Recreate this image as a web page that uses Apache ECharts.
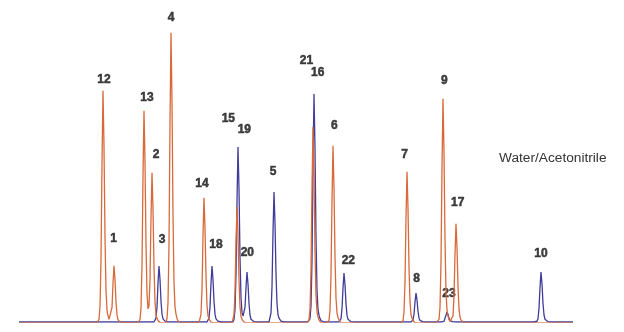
<!DOCTYPE html>
<html>
<head>
<meta charset="utf-8">
<script src="https://cdn.jsdelivr.net/npm/echarts@6/dist/echarts.min.js"></script>
<style>
html,body{margin:0;padding:0;background:#fff;}
#chart{width:624px;height:332px;}
</style>
</head>
<body>
<div id="chart"></div>
<script>
// Retention time axis (min) and sampling step of the drawn traces
const timeMin = 0;
const timeMax = 27.7;
const timeStep = 0.05;

// Orange trace peaks: retention time (min), height (mAU-like units)
const orangePeakNames   = ['12', '1', '13', '2', '4', '14', '15', '21', '6', '7', '9', '17'];
const orangePeakTimes   = [4.2, 4.75, 6.25, 6.65, 7.6, 9.25, 10.9, 14.7, 15.7, 19.4, 21.2, 21.85];
const orangePeakHeights = [232, 57, 212, 150, 290, 125, 116, 196, 177, 151, 224, 99];

// Blue trace peaks
const bluePeakNames   = ['3', '18', '19', '20', '5', '16', '22', '8', '23', '10'];
const bluePeakTimes   = [7.0, 9.65, 10.95, 11.4, 12.75, 14.75, 16.25, 19.85, 21.4, 26.1];
const bluePeakHeights = [56, 56, 175, 50, 130, 228, 49, 29, 10, 50];

// Peak profile: fraction of apex height at sample offsets -5 .. +8
const peakShapeStart = -5;
const peakShape = [0, 0.015, 0.07, 0.27, 0.69, 1, 0.76, 0.37, 0.14, 0.055, 0.03, 0.015, 0.006, 0];

// Baseline levels
const orangeBaseline = -0.8;
const blueBaseline = 0;

// Peak number labels: name, time (min), level
const labelNames  = ['12', '1', '13', '2', '3', '4', '14', '18', '15', '19', '20', '5', '21', '16', '6', '22', '7', '8', '9', '23', '17', '10'];
const labelTimes  = [4.25, 4.735, 6.4, 6.85, 7.15, 7.6, 9.15, 9.85, 10.465, 11.265, 11.415, 12.7, 14.375, 14.935, 15.765, 16.465, 19.285, 19.885, 21.265, 21.5, 21.935, 26.1];
const labelLevels = [242, 83.7, 224.7, 167, 82.7, 304.3, 138, 77.7, 203, 192.7, 69.7, 150.7, 261, 249.3, 196, 61.7, 167.7, 43.3, 241, 28.7, 119.7, 68];

const solventText = 'Water/Acetonitrile';

function buildTrace(times, heights, baseline) {
  const n = Math.round((timeMax - timeMin) / timeStep);
  const vals = new Array(n + 1).fill(baseline);
  times.forEach((t, p) => {
    const c = Math.round((t - timeMin) / timeStep);
    peakShape.forEach((f, k) => {
      const i = c + peakShapeStart + k;
      if (i >= 0 && i <= n) vals[i] += heights[p] * f;
    });
  });
  return vals.map((v, i) => [+(timeMin + i * timeStep).toFixed(3), v]);
}

const chart = echarts.init(document.getElementById('chart'), null, {renderer: 'canvas'});
chart.setOption({
  animation: false,
  backgroundColor: '#ffffff',
  title: {
    text: solventText,
    left: 499,
    top: 151,
    padding: 0,
    textStyle: {fontFamily: 'Liberation Sans', fontSize: 13.7, fontWeight: 'normal', color: '#333333'}
  },
  grid: {left: 19, right: 51, top: 0, bottom: 10},
  xAxis: {type: 'value', min: timeMin, max: timeMax, show: false},
  yAxis: {type: 'value', min: 0, max: 322, show: false},
  series: [
    {
      type: 'line',
      data: buildTrace(bluePeakTimes, bluePeakHeights, blueBaseline),
      showSymbol: false,
      lineStyle: {color: '#3f3d99', width: 1.3},
      silent: true
    },
    {
      type: 'line',
      data: buildTrace(orangePeakTimes, orangePeakHeights, orangeBaseline),
      showSymbol: false,
      lineStyle: {color: '#d8693a', width: 1.3},
      silent: true
    },
    {
      type: 'scatter',
      clip: false,
      symbolSize: 1,
      itemStyle: {color: 'rgba(0,0,0,0)'},
      data: labelNames.map((n, i) => ({name: n, value: [labelTimes[i], labelLevels[i]]})),
      label: {
        show: true,
        position: 'inside',
        formatter: '{b}',
        fontFamily: 'Liberation Sans',
        fontWeight: 'bold',
        fontSize: 12,
        color: '#111111',
        textBorderColor: '#111111',
        textBorderWidth: 0.5
      },
      silent: true
    }
  ]
});
</script>
</body>
</html>
